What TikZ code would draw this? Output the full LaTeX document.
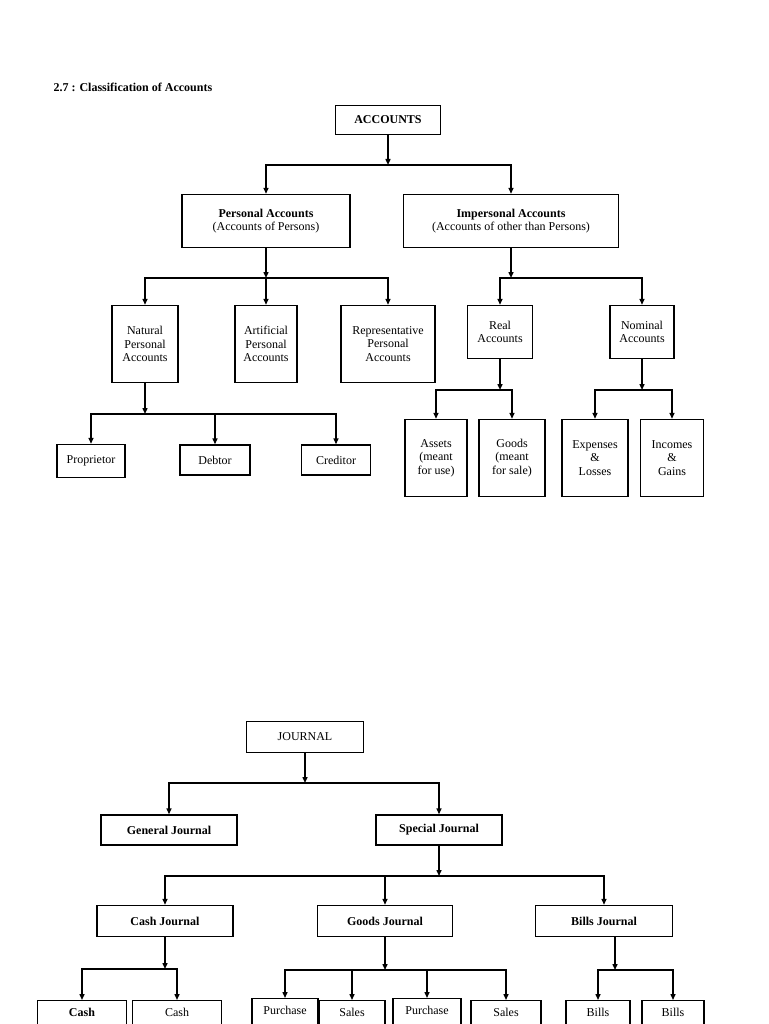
\documentclass[tikz,border=0pt]{standalone}
\usepackage{fontspec}
\setmainfont{Liberation Serif}
\usetikzlibrary{arrows.meta}
\begin{document}
\begin{tikzpicture}[x=1pt,y=-1pt,
  bx/.style={draw,line width=1.4pt,inner sep=1pt,align=center,font=\fontsize{12}{13.5}\selectfont},
  ln/.style={line width=1.4pt},
  ar/.style={line width=1.4pt,-{Triangle[length=6pt,width=5pt]}}]
\clip (0,0) rectangle (768,1024);
\fill[white] (0,0) rectangle (768,1024);
\node[anchor=west,font=\fontsize{12}{13}\selectfont\bfseries] (t) at (50,87) {2.7 : Classification of Accounts};
% top tree
\node[bx,minimum width=105,minimum height=29] (acc) at (388,120) {\textbf{ACCOUNTS}};
\node[bx,minimum width=168,minimum height=53] (pers) at (266,221) {\textbf{Personal Accounts}\\(Accounts of Persons)};
\node[bx,minimum width=215,minimum height=53] (imp) at (511,221) {\textbf{Impersonal Accounts}\\(Accounts of other than Persons)};
\node[bx,minimum width=66,minimum height=77] (nat) at (145,344) {Natural\\Personal\\Accounts};
\node[bx,minimum width=62,minimum height=77] (art) at (266,344) {Artificial\\Personal\\Accounts};
\node[bx,minimum width=94,minimum height=77] (rep) at (388,344) {Representative\\Personal\\Accounts};
\node[bx,minimum width=65,minimum height=53] (real) at (500,332) {Real\\Accounts};
\node[bx,minimum width=64,minimum height=53] (nom) at (642,332) {Nominal\\Accounts};
\node[bx,minimum width=62,minimum height=77] (ass) at (436,458) {Assets\\(meant\\for use)};
\node[bx,minimum width=66,minimum height=77] (goo) at (512,458) {Goods\\(meant\\for sale)};
\node[bx,minimum width=66,minimum height=77] (exp) at (595,458) {Expenses\\\&\\Losses};
\node[bx,minimum width=63,minimum height=77] (inc) at (672,458) {Incomes\\\&\\Gains};
\node[bx,minimum width=68,minimum height=33] (pro) at (91,461) {Proprietor};
\node[bx,minimum width=70,minimum height=30] (deb) at (215,460) {Debtor};
\node[bx,minimum width=69,minimum height=30] (cre) at (336,460) {Creditor};
\coordinate (j1) at (388,165);
\draw[ar] (acc.south) -- (j1); \draw[ar] (j1) -| (pers.north); \draw[ar] (j1) -| (imp.north);
\coordinate (j2) at (266,278);
\draw[ar] (pers.south) -- (j2); \draw[ar] (j2) -| (nat.north); \draw[ar] (j2) -- (art.north); \draw[ar] (j2) -| (rep.north);
\coordinate (j3) at (511,278);
\draw[ar] (imp.south) -- (j3); \draw[ar] (j3) -| (real.north); \draw[ar] (j3) -| (nom.north);
\coordinate (j4) at (500,390);
\draw[ar] (real.south) -- (j4); \draw[ar] (j4) -| (ass.north); \draw[ar] (j4) -| (goo.north);
\coordinate (j5) at (642,390);
\draw[ar] (nom.south) -- (j5); \draw[ar] (j5) -| (exp.north); \draw[ar] (j5) -| (inc.north);
\coordinate (j6) at (145,414);
\draw[ar] (nat.south) -- (j6); \draw[ar] (j6) -| (pro.north); \draw[ar] (j6) -| (deb.north); \draw[ar] (j6) -| (cre.north);
% journal tree
\node[bx,minimum width=117,minimum height=31] (jou) at (305,737) {JOURNAL};
\node[bx,minimum width=136,minimum height=30] (gen) at (169,830) {\textbf{General Journal}};
\node[bx,minimum width=126,minimum height=30] (spe) at (439,830) {\textbf{Special Journal}};
\node[bx,minimum width=136,minimum height=31] (caj) at (165,921) {\textbf{Cash Journal}};
\node[bx,minimum width=135,minimum height=31] (goj) at (385,921) {\textbf{Goods Journal}};
\node[bx,minimum width=137,minimum height=31] (bij) at (604,921) {\textbf{Bills Journal}};
\node[bx,minimum width=89,minimum height=40,anchor=north] (c1) at (82,1000) {\textbf{Cash}\\ \strut};
\node[bx,minimum width=89,minimum height=40,anchor=north] (c2) at (177,1000) {Cash\\ \strut};
\node[bx,minimum width=66,minimum height=40,anchor=north] (p1) at (285,998) {Purchase\\ \strut};
\node[bx,minimum width=66,minimum height=40,anchor=north] (s1) at (352,1000) {Sales\\ \strut};
\node[bx,minimum width=68,minimum height=40,anchor=north] (p2) at (427,998) {Purchase\\ \strut};
\node[bx,minimum width=70,minimum height=40,anchor=north] (s2) at (506,1000) {Sales\\ \strut};
\node[bx,minimum width=64,minimum height=40,anchor=north] (b1) at (598,1000) {Bills\\ \strut};
\node[bx,minimum width=62,minimum height=40,anchor=north] (b2) at (673,1000) {Bills\\ \strut};
\coordinate (k1) at (305,783);
\draw[ar] (jou.south) -- (k1); \draw[ar] (k1) -| (gen.north); \draw[ar] (k1) -| (spe.north);
\coordinate (k2) at (439,876);
\draw[ar] (spe.south) -- (k2); \draw[ar] (k2) -| (caj.north); \draw[ar] (k2) -| (goj.north); \draw[ar] (k2) -| (bij.north);
\coordinate (k3) at (165,969);
\draw[ar] (caj.south) -- (k3); \draw[ar] (k3) -| (c1.north); \draw[ar] (k3) -| (c2.north);
\coordinate (k4) at (385,970);
\draw[ar] (goj.south) -- (k4); \draw[ar] (k4) -| (p1.north); \draw[ar] (k4) -| (s1.north); \draw[ar] (k4) -| (p2.north); \draw[ar] (k4) -| (s2.north);
\coordinate (k5) at (615,970);
\draw[ar] (bij.south -| k5) -- (k5); \draw[ar] (k5) -| (b1.north); \draw[ar] (k5) -| (b2.north);
\end{tikzpicture}
\end{document}
